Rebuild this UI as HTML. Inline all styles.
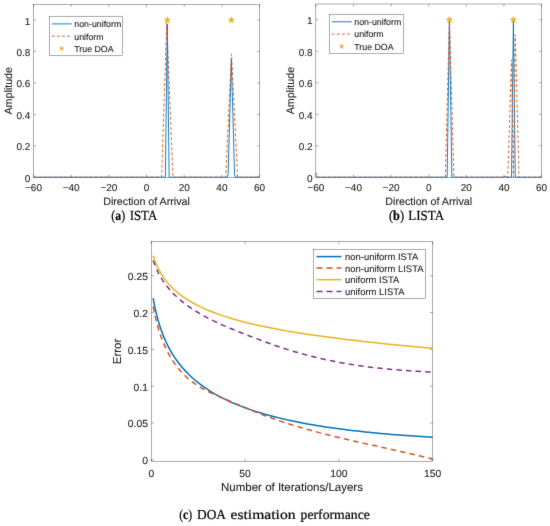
<!DOCTYPE html>
<html lang="en"><head><meta charset="utf-8"><title>DOA estimation figure</title>
<style>html,body{margin:0;padding:0;background:#fff}body{width:550px;height:526px;overflow:hidden;position:relative}svg{position:absolute;left:0;top:0;display:block}text{font-family:"Liberation Sans",sans-serif;stroke:#262626;stroke-width:0.1px;text-rendering:geometricPrecision}.cap{font-family:"Liberation Serif",serif;fill:#000;stroke:#000;stroke-width:0.2px;text-rendering:geometricPrecision}</style>
</head><body>
<svg width="550" height="526" viewBox="0 0 550 526">
<defs><filter id="soft" x="0" y="0" width="550" height="526" filterUnits="userSpaceOnUse" color-interpolation-filters="sRGB"><feConvolveMatrix order="3" kernelMatrix="0.0064 0.0672 0.0064 0.0672 0.7056 0.0672 0.0064 0.0672 0.0064" divisor="1" edgeMode="duplicate" preserveAlpha="true"/></filter></defs>
<g filter="url(#soft)">
<rect width="550" height="526" fill="#fff"/>
<g id="plot-a">
<rect x="33.5" y="4.4" width="226.1" height="172.8" fill="none" stroke="#262626" stroke-width="0.38"/>
<path d="M33.5 177.2v-2.6 M33.5 4.4v2.6 M71.18 177.2v-2.6 M71.18 4.4v2.6 M108.87 177.2v-2.6 M108.87 4.4v2.6 M146.55 177.2v-2.6 M146.55 4.4v2.6 M184.23 177.2v-2.6 M184.23 4.4v2.6 M221.92 177.2v-2.6 M221.92 4.4v2.6 M259.6 177.2v-2.6 M259.6 4.4v2.6 M33.5 177.2h2.6 M259.6 177.2h-2.6 M33.5 145.78h2.6 M259.6 145.78h-2.6 M33.5 114.36h2.6 M259.6 114.36h-2.6 M33.5 82.95h2.6 M259.6 82.95h-2.6 M33.5 51.53h2.6 M259.6 51.53h-2.6 M33.5 20.11h2.6 M259.6 20.11h-2.6 " stroke="#262626" stroke-width="0.38" fill="none"/>
<polyline points="33.5,177.2 165.39,177.2 167.28,24.04 169.16,177.2 227.38,177.2 228.13,174.06 231.34,59.38 234.54,174.06 235.29,177.2 259.6,177.2" fill="none" stroke="#0072BD" stroke-width="0.9" stroke-linejoin="round"/>
<polyline points="33.5,177.2 161.62,177.2 166.71,22.47 172.93,177.2 225.69,177.2 231.53,53.88 237.56,177.2 259.6,177.2" fill="none" stroke="#D95319" stroke-width="0.9" stroke-linejoin="round" stroke-dasharray="2.9 2.2"/>
<polygon points="167.28,16.51 168.13,18.94 170.7,19 168.65,20.56 169.39,23.02 167.28,21.56 165.16,23.02 165.9,20.56 163.85,19 166.42,18.94" fill="#EDB120" stroke="#EDB120" stroke-width="0.38" stroke-linejoin="miter"/>
<polygon points="231.34,16.51 232.19,18.94 234.76,19 232.72,20.56 233.45,23.02 231.34,21.56 229.22,23.02 229.96,20.56 227.91,19 230.49,18.94" fill="#EDB120" stroke="#EDB120" stroke-width="0.38" stroke-linejoin="miter"/>
<text x="33.5" y="191.3" text-anchor="middle" font-size="10" fill="#222222">−60</text>
<text x="71.18" y="191.3" text-anchor="middle" font-size="10" fill="#222222">−40</text>
<text x="108.87" y="191.3" text-anchor="middle" font-size="10" fill="#222222">−20</text>
<text x="146.55" y="191.3" text-anchor="middle" font-size="10" fill="#222222">0</text>
<text x="184.23" y="191.3" text-anchor="middle" font-size="10" fill="#222222">20</text>
<text x="221.92" y="191.3" text-anchor="middle" font-size="10" fill="#222222">40</text>
<text x="259.6" y="191.3" text-anchor="middle" font-size="10" fill="#222222">60</text>
<text x="30.3" y="181.7" text-anchor="end" font-size="10" fill="#222222">0</text>
<text x="30.3" y="150.28" text-anchor="end" font-size="10" fill="#222222">0.2</text>
<text x="30.3" y="118.86" text-anchor="end" font-size="10" fill="#222222">0.4</text>
<text x="30.3" y="87.45" text-anchor="end" font-size="10" fill="#222222">0.6</text>
<text x="30.3" y="56.03" text-anchor="end" font-size="10" fill="#222222">0.8</text>
<text x="30.3" y="24.61" text-anchor="end" font-size="10" fill="#222222">1</text>
<text x="146.55" y="204.6" text-anchor="middle" font-size="10.7" fill="#222222">Direction of Arrival</text>
<text transform="translate(11.6 90.8) rotate(-90)" text-anchor="middle" font-size="10.7" fill="#222222">Amplitude</text>
<rect x="49.3" y="16.7" width="72.9" height="38.8" fill="#fff" stroke="#262626" stroke-width="0.38"/>
<path d="M51.8 23.9h20" stroke="#0072BD" stroke-width="0.9" fill="none"/>
<path d="M51.8 36.2h20" stroke="#D95319" stroke-width="0.9" stroke-dasharray="2.9 2.2" fill="none"/>
<polygon points="61.7,45.9 62.32,47.65 64.17,47.7 62.7,48.82 63.23,50.6 61.7,49.55 60.17,50.6 60.7,48.82 59.23,47.7 61.08,47.65" fill="#EDB120" stroke="#EDB120" stroke-width="0.38" stroke-linejoin="miter"/>
<text x="74.3" y="27.2" font-size="8.8" fill="#222222">non-uniform</text>
<text x="74.3" y="39.5" font-size="8.8" fill="#222222">uniform</text>
<text x="74.3" y="51.8" font-size="8.8" fill="#222222">True DOA</text>
</g>
<g id="plot-b">
<rect x="315.85" y="4" width="225.75" height="173.2" fill="none" stroke="#262626" stroke-width="0.38"/>
<path d="M315.85 177.2v-2.6 M315.85 4v2.6 M353.48 177.2v-2.6 M353.48 4v2.6 M391.1 177.2v-2.6 M391.1 4v2.6 M428.73 177.2v-2.6 M428.73 4v2.6 M466.35 177.2v-2.6 M466.35 4v2.6 M503.98 177.2v-2.6 M503.98 4v2.6 M541.6 177.2v-2.6 M541.6 4v2.6 M315.85 177.2h2.6 M541.6 177.2h-2.6 M315.85 145.71h2.6 M541.6 145.71h-2.6 M315.85 114.22h2.6 M541.6 114.22h-2.6 M315.85 82.73h2.6 M541.6 82.73h-2.6 M315.85 51.24h2.6 M541.6 51.24h-2.6 M315.85 19.75h2.6 M541.6 19.75h-2.6 " stroke="#262626" stroke-width="0.38" fill="none"/>
<polyline points="315.85,177.2 447.16,177.2 449.42,19.75 451.86,177.2 503.98,177.2 504.73,175.94 505.86,177.2 511.5,177.2 513.38,19.75 515.26,177.2 541.6,177.2" fill="none" stroke="#0072BD" stroke-width="0.9" stroke-linejoin="round"/>
<polyline points="315.85,172.48 317.73,177.2 445.28,177.2 449.42,19.75 453.93,177.2 507.74,177.2 511.5,59.9 513.38,177.2 515.26,34.7 519.03,177.2 541.6,177.2" fill="none" stroke="#D95319" stroke-width="0.9" stroke-linejoin="round" stroke-dasharray="2.9 2.2"/>
<polygon points="449.42,16.15 450.27,18.57 452.84,18.63 450.8,20.19 451.53,22.66 449.42,21.2 447.3,22.66 448.04,20.19 445.99,18.63 448.57,18.57" fill="#EDB120" stroke="#EDB120" stroke-width="0.38" stroke-linejoin="miter"/>
<polygon points="513.38,16.15 514.23,18.57 516.81,18.63 514.76,20.19 515.5,22.66 513.38,21.2 511.27,22.66 512,20.19 509.96,18.63 512.53,18.57" fill="#EDB120" stroke="#EDB120" stroke-width="0.38" stroke-linejoin="miter"/>
<text x="315.85" y="191.3" text-anchor="middle" font-size="10" fill="#222222">−60</text>
<text x="353.48" y="191.3" text-anchor="middle" font-size="10" fill="#222222">−40</text>
<text x="391.1" y="191.3" text-anchor="middle" font-size="10" fill="#222222">−20</text>
<text x="428.73" y="191.3" text-anchor="middle" font-size="10" fill="#222222">0</text>
<text x="466.35" y="191.3" text-anchor="middle" font-size="10" fill="#222222">20</text>
<text x="503.98" y="191.3" text-anchor="middle" font-size="10" fill="#222222">40</text>
<text x="541.6" y="191.3" text-anchor="middle" font-size="10" fill="#222222">60</text>
<text x="312.65" y="181.7" text-anchor="end" font-size="10" fill="#222222">0</text>
<text x="312.65" y="150.21" text-anchor="end" font-size="10" fill="#222222">0.2</text>
<text x="312.65" y="118.72" text-anchor="end" font-size="10" fill="#222222">0.4</text>
<text x="312.65" y="87.23" text-anchor="end" font-size="10" fill="#222222">0.6</text>
<text x="312.65" y="55.74" text-anchor="end" font-size="10" fill="#222222">0.8</text>
<text x="312.65" y="24.25" text-anchor="end" font-size="10" fill="#222222">1</text>
<text x="428.73" y="204.6" text-anchor="middle" font-size="10.7" fill="#222222">Direction of Arrival</text>
<text transform="translate(293.6 90.6) rotate(-90)" text-anchor="middle" font-size="10.7" fill="#222222">Amplitude</text>
<rect x="329.3" y="14.6" width="74.4" height="38.9" fill="#fff" stroke="#262626" stroke-width="0.38"/>
<path d="M331.8 21.8h20" stroke="#0072BD" stroke-width="0.9" fill="none"/>
<path d="M331.8 34.1h20" stroke="#D95319" stroke-width="0.9" stroke-dasharray="2.9 2.2" fill="none"/>
<polygon points="341.7,43.8 342.32,45.55 344.17,45.6 342.7,46.72 343.23,48.5 341.7,47.45 340.17,48.5 340.7,46.72 339.23,45.6 341.08,45.55" fill="#EDB120" stroke="#EDB120" stroke-width="0.38" stroke-linejoin="miter"/>
<text x="354.3" y="25.1" font-size="8.8" fill="#222222">non-uniform</text>
<text x="354.3" y="37.4" font-size="8.8" fill="#222222">uniform</text>
<text x="354.3" y="49.7" font-size="8.8" fill="#222222">True DOA</text>
</g>
<g id="plot-c">
<rect x="151.3" y="241.6" width="281.4" height="219.8" fill="none" stroke="#262626" stroke-width="0.38"/>
<text x="151.3" y="476.8" text-anchor="middle" font-size="10.35" fill="#222222">0</text>
<text x="245.1" y="476.8" text-anchor="middle" font-size="10.35" fill="#222222">50</text>
<text x="338.9" y="476.8" text-anchor="middle" font-size="10.35" fill="#222222">100</text>
<text x="432.7" y="476.8" text-anchor="middle" font-size="10.35" fill="#222222">150</text>
<text x="147.9" y="464.2" text-anchor="end" font-size="10.35" fill="#222222">0</text>
<text x="147.9" y="427.4" text-anchor="end" font-size="10.35" fill="#222222">0.05</text>
<text x="147.9" y="390.6" text-anchor="end" font-size="10.35" fill="#222222">0.1</text>
<text x="147.9" y="353.8" text-anchor="end" font-size="10.35" fill="#222222">0.15</text>
<text x="147.9" y="317" text-anchor="end" font-size="10.35" fill="#222222">0.2</text>
<text x="147.9" y="280.2" text-anchor="end" font-size="10.35" fill="#222222">0.25</text>
<path d="M151.3 461.4v-2.8 M151.3 241.6v2.8 M245.1 461.4v-2.8 M245.1 241.6v2.8 M338.9 461.4v-2.8 M338.9 241.6v2.8 M432.7 461.4v-2.8 M432.7 241.6v2.8 M151.3 459.8h2.8 M432.7 459.8h-2.8 M151.3 423h2.8 M432.7 423h-2.8 M151.3 386.2h2.8 M432.7 386.2h-2.8 M151.3 349.4h2.8 M432.7 349.4h-2.8 M151.3 312.6h2.8 M432.7 312.6h-2.8 M151.3 275.8h2.8 M432.7 275.8h-2.8 " stroke="#262626" stroke-width="0.38" fill="none"/>
<polyline points="153.18,298.2 154.11,303.28 155.05,307.87 155.99,312.04 156.93,315.86 157.87,319.39 158.8,322.66 159.74,325.7 160.68,328.55 161.62,331.23 162.56,333.75 163.49,336.13 164.43,338.39 165.37,340.54 166.31,342.58 167.25,344.54 168.18,346.4 169.12,348.19 170.06,349.91 171,351.56 171.94,353.14 172.87,354.67 173.81,356.14 174.75,357.57 175.69,358.94 176.63,360.28 177.56,361.56 178.5,362.81 179.44,364.03 180.38,365.21 181.32,366.35 182.25,367.46 183.19,368.54 184.13,369.6 185.07,370.62 186.01,371.62 186.94,372.6 187.88,373.55 188.82,374.48 192.57,377.99 196.32,381.2 200.08,384.17 203.83,386.91 207.58,389.46 211.33,391.84 215.08,394.06 218.84,396.15 222.59,398.11 226.34,399.95 230.09,401.7 233.84,403.35 237.6,404.91 241.35,406.39 245.1,407.8 248.85,409.14 252.6,410.41 256.36,411.63 260.11,412.79 263.86,413.9 267.61,414.96 271.36,415.98 275.12,416.95 278.87,417.89 282.62,418.78 286.37,419.64 290.12,420.47 293.88,421.27 297.63,422.03 301.38,422.77 305.13,423.47 308.88,424.15 312.64,424.81 316.39,425.44 320.14,426.05 323.89,426.64 327.64,427.21 331.4,427.76 335.15,428.29 338.9,428.8 342.65,429.29 346.4,429.77 350.16,430.23 353.91,430.68 357.66,431.11 361.41,431.52 365.16,431.93 368.92,432.32 372.67,432.69 376.42,433.06 380.17,433.41 383.92,433.75 387.68,434.08 391.43,434.4 395.18,434.71 398.93,435.01 402.68,435.3 406.44,435.58 410.19,435.85 413.94,436.11 417.69,436.37 421.44,436.61 425.2,436.85 428.95,437.08 432.7,437.3" fill="none" stroke="#0072BD" stroke-width="1.5" stroke-linejoin="round"/>
<polyline points="153.18,306.51 154.11,311.29 155.05,315.64 155.99,319.63 156.93,323.3 157.87,326.7 158.8,329.85 159.74,332.8 160.68,335.55 161.62,338.14 162.56,340.59 163.49,342.9 164.43,345.09 165.37,347.18 166.31,349.16 167.25,351.06 168.18,352.87 169.12,354.6 170.06,356.27 171,357.87 171.94,359.4 172.87,360.88 173.81,362.29 174.75,363.66 175.69,364.97 176.63,366.23 177.56,367.45 178.5,368.63 179.44,369.76 180.38,370.85 181.32,371.91 182.25,372.93 183.19,373.91 184.13,374.87 185.07,375.79 186.01,376.68 186.94,377.54 187.88,378.38 188.82,379.18 192.57,382.17 196.32,384.82 200.08,387.16 203.83,389.27 207.58,391.2 211.33,393.01 215.08,394.74 218.84,396.41 222.59,398.03 226.34,399.64 230.09,401.23 233.84,402.81 237.6,404.4 241.35,405.99 245.1,407.57 248.85,409.15 252.6,410.7 256.36,412.23 260.11,413.72 263.86,415.19 267.61,416.61 271.36,418 275.12,419.34 278.87,420.65 282.62,421.91 286.37,423.14 290.12,424.33 293.88,425.49 297.63,426.61 301.38,427.71 305.13,428.79 308.88,429.84 312.64,430.87 316.39,431.88 320.14,432.87 323.89,433.84 327.64,434.79 331.4,435.73 335.15,436.66 338.9,437.57 342.65,438.46 346.4,439.35 350.16,440.22 353.91,441.08 357.66,441.93 361.41,442.78 365.16,443.61 368.92,444.45 372.67,445.28 376.42,446.1 380.17,446.93 383.92,447.76 387.68,448.59 391.43,449.43 395.18,450.27 398.93,451.11 402.68,451.96 406.44,452.82 410.19,453.69 413.94,454.56 417.69,455.44 421.44,456.33 425.2,457.23 428.95,458.14 432.7,459.06" fill="none" stroke="#D95319" stroke-width="1.5" stroke-linejoin="round" stroke-dasharray="5.4 4.2"/>
<polyline points="153.18,255.69 154.11,258.48 155.05,261.03 155.99,263.38 156.93,265.55 157.87,267.56 158.8,269.43 159.74,271.19 160.68,272.84 161.62,274.4 162.56,275.88 163.49,277.28 164.43,278.61 165.37,279.88 166.31,281.09 167.25,282.25 168.18,283.37 169.12,284.44 170.06,285.47 171,286.46 171.94,287.41 172.87,288.34 173.81,289.23 174.75,290.1 175.69,290.93 176.63,291.75 177.56,292.53 178.5,293.3 179.44,294.04 180.38,294.77 181.32,295.47 182.25,296.16 183.19,296.83 184.13,297.48 185.07,298.11 186.01,298.74 186.94,299.34 187.88,299.94 188.82,300.52 192.57,302.72 196.32,304.74 200.08,306.62 203.83,308.37 207.58,310.01 211.33,311.54 215.08,312.99 218.84,314.36 222.59,315.65 226.34,316.88 230.09,318.05 233.84,319.16 237.6,320.23 241.35,321.25 245.1,322.23 248.85,323.16 252.6,324.06 256.36,324.93 260.11,325.77 263.86,326.57 267.61,327.35 271.36,328.1 275.12,328.83 278.87,329.53 282.62,330.21 286.37,330.88 290.12,331.52 293.88,332.14 297.63,332.75 301.38,333.34 305.13,333.91 308.88,334.47 312.64,335.02 316.39,335.56 320.14,336.08 323.89,336.59 327.64,337.09 331.4,337.58 335.15,338.07 338.9,338.54 342.65,339 346.4,339.46 350.16,339.91 353.91,340.35 357.66,340.78 361.41,341.21 365.16,341.63 368.92,342.05 372.67,342.46 376.42,342.86 380.17,343.26 383.92,343.65 387.68,344.04 391.43,344.42 395.18,344.8 398.93,345.17 402.68,345.54 406.44,345.91 410.19,346.27 413.94,346.63 417.69,346.98 421.44,347.33 425.2,347.68 428.95,348.02 432.7,348.36" fill="none" stroke="#EDB120" stroke-width="1.5" stroke-linejoin="round"/>
<polyline points="153.18,260.4 154.11,263.13 155.05,265.61 155.99,267.88 156.93,269.98 157.87,271.94 158.8,273.77 159.74,275.5 160.68,277.13 161.62,278.68 162.56,280.16 163.49,281.56 164.43,282.91 165.37,284.2 166.31,285.45 167.25,286.64 168.18,287.8 169.12,288.91 170.06,289.99 171,291.03 171.94,292.05 172.87,293.03 173.81,293.99 174.75,294.92 175.69,295.82 176.63,296.7 177.56,297.56 178.5,298.4 179.44,299.22 180.38,300.03 181.32,300.81 182.25,301.58 183.19,302.33 184.13,303.06 185.07,303.78 186.01,304.49 186.94,305.19 187.88,305.87 188.82,306.53 192.57,309.09 196.32,311.49 200.08,313.74 203.83,315.87 207.58,317.89 211.33,319.81 215.08,321.64 218.84,323.38 222.59,325.06 226.34,326.69 230.09,328.27 233.84,329.81 237.6,331.32 241.35,332.81 245.1,334.27 248.85,335.73 252.6,337.16 256.36,338.59 260.11,340 263.86,341.4 267.61,342.77 271.36,344.11 275.12,345.42 278.87,346.7 282.62,347.94 286.37,349.15 290.12,350.32 293.88,351.46 297.63,352.56 301.38,353.62 305.13,354.65 308.88,355.64 312.64,356.59 316.39,357.51 320.14,358.4 323.89,359.25 327.64,360.06 331.4,360.85 335.15,361.6 338.9,362.32 342.65,363 346.4,363.66 350.16,364.29 353.91,364.88 357.66,365.45 361.41,365.99 365.16,366.5 368.92,366.99 372.67,367.45 376.42,367.89 380.17,368.3 383.92,368.69 387.68,369.06 391.43,369.41 395.18,369.74 398.93,370.04 402.68,370.33 406.44,370.61 410.19,370.86 413.94,371.1 417.69,371.32 421.44,371.53 425.2,371.72 428.95,371.9 432.7,372.06" fill="none" stroke="#7E2F8E" stroke-width="1.5" stroke-linejoin="round" stroke-dasharray="5.4 4.2"/>
<text x="292" y="491.1" text-anchor="middle" font-size="11.5" fill="#222222">Number of Iterations/Layers</text>
<text transform="translate(121.4 351.5) rotate(-90)" text-anchor="middle" font-size="11.5" fill="#222222">Error</text>
<rect x="313.4" y="249.8" width="111.8" height="48.9" fill="#fff" stroke="#262626" stroke-width="0.38"/>
<path d="M316.5 256.6h25" stroke="#0072BD" stroke-width="1.5" fill="none"/>
<text x="345" y="260" font-size="9.45" fill="#222222">non-uniform ISTA</text>
<path d="M316.5 268.1h25" stroke="#D95319" stroke-width="1.5" fill="none" stroke-dasharray="6 4"/>
<text x="345" y="271.5" font-size="9.45" fill="#222222">non-uniform LISTA</text>
<path d="M316.5 279.7h25" stroke="#EDB120" stroke-width="1.5" fill="none"/>
<text x="345" y="283.1" font-size="9.45" fill="#222222">uniform ISTA</text>
<path d="M316.5 291.5h25" stroke="#7E2F8E" stroke-width="1.5" fill="none" stroke-dasharray="6 4"/>
<text x="345" y="294.9" font-size="9.45" fill="#222222">uniform LISTA</text>
</g>
<text class="cap" x="111.3" y="219.8" font-size="13.9" textLength="13.8" lengthAdjust="spacingAndGlyphs">(<tspan font-weight="bold">a</tspan>)</text>
<text class="cap" x="129.7" y="219.8" font-size="13.9" textLength="27.5" lengthAdjust="spacingAndGlyphs">ISTA</text>
<text class="cap" x="389" y="219.8" font-size="13.9" textLength="15" lengthAdjust="spacingAndGlyphs">(<tspan font-weight="bold">b</tspan>)</text>
<text class="cap" x="408.3" y="219.8" font-size="13.9" textLength="35.8" lengthAdjust="spacingAndGlyphs">LISTA</text>
<text class="cap" x="179.2" y="518.6" font-size="13.7" textLength="13" lengthAdjust="spacingAndGlyphs">(<tspan font-weight="bold">c</tspan>)</text>
<text class="cap" x="197" y="518.6" font-size="13.7" textLength="29" lengthAdjust="spacingAndGlyphs">DOA</text>
<text class="cap" x="230.5" y="518.6" font-size="13.7" textLength="65" lengthAdjust="spacingAndGlyphs">estimation</text>
<text class="cap" x="300.6" y="518.6" font-size="13.7" textLength="69.3" lengthAdjust="spacingAndGlyphs">performance</text>
</g>
</svg>
</body></html>
